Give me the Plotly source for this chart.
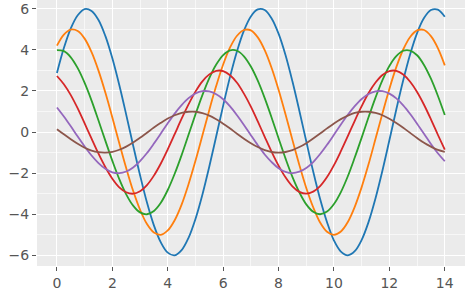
import plotly.graph_objects as go

x = [i * 0.25 for i in range(57)]

blue = [2.88, 4.09, 5.05, 5.69, 5.99, 5.90, 5.46, 4.67, 3.59, 2.29,
        0.85, -0.65, -2.10, -3.43, -4.54, -5.37, -5.87, -6.00, -5.75, -5.15,
        -4.23, -3.05, -1.68, -0.20, 1.29, 2.70, 3.94, 4.94, 5.63, 5.97,
        5.94, 5.53, 4.79, 3.75, 2.47, 1.04, -0.45, -1.92, -3.26, -4.39,
        -5.28, -5.82, -6.00, -5.80, -5.25, -4.37, -3.22, -1.87, -0.40, 1.10,
        2.52, 3.79, 4.82, 5.55, 5.94, 5.96, 5.61]
orange = [4.21, 4.75, 4.99, 4.92, 4.55, 3.89, 2.99, 1.91, 0.71, -0.54,
          -1.75, -2.86, -3.78, -4.48, -4.89, -5.00, -4.79, -4.29, -3.53, -2.54,
          -1.40, -0.17, 1.08, 2.25, 3.29, 4.12, 4.69, 4.97, 4.95, 4.61,
          3.99, 3.12, 2.06, 0.87, -0.38, -1.60, -2.72, -3.66, -4.40, -4.85,
          -5.00, -4.84, -4.38, -3.64, -2.68, -1.56, -0.33, 0.91, 2.10, 3.16,
          4.02, 4.63, 4.95, 4.97, 4.67, 4.09, 3.25]
green = [3.99, 3.94, 3.64, 3.11, 2.39, 1.53, 0.56, -0.43, -1.40, -2.29,
         -3.03, -3.58, -3.91, -4.00, -3.84, -3.44, -2.82, -2.03, -1.12, -0.13,
         0.86, 1.80, 2.63, 3.29, 3.75, 3.98, 3.96, 3.69, 3.19, 2.50,
         1.65, 0.70, -0.30, -1.28, -2.18, -2.93, -3.52, -3.88, -4.00, -3.87,
         -3.50, -2.92, -2.15, -1.24, -0.27, 0.73, 1.68, 2.53, 3.22, 3.70,
         3.96, 3.97, 3.74, 3.27, 2.60, 1.77, 0.83]
red = [2.73, 2.33, 1.80, 1.15, 0.42, -0.32, -1.05, -1.71, -2.27, -2.69,
       -2.93, -3.00, -2.88, -2.58, -2.12, -1.53, -0.84, -0.10, 0.65, 1.35,
       1.97, 2.47, 2.81, 2.98, 2.97, 2.77, 2.40, 1.87, 1.24, 0.52,
       -0.23, -0.96, -1.63, -2.20, -2.64, -2.91, -3.00, -2.90, -2.63, -2.19,
       -1.61, -0.93, -0.20, 0.55, 1.26, 1.90, 2.41, 2.78, 2.97, 2.98,
       2.80, 2.45, 1.95, 1.33, 0.62, -0.13, -0.86]
purple = [1.20, 0.76, 0.28, -0.22, -0.70, -1.14, -1.51, -1.79, -1.96, -2.00,
          -1.92, -1.72, -1.41, -1.02, -0.56, -0.07, 0.43, 0.90, 1.31, 1.65,
          1.88, 1.99, 1.98, 1.84, 1.60, 1.25, 0.82, 0.35, -0.15, -0.64,
          -1.09, -1.46, -1.76, -1.94, -2.00, -1.93, -1.75, -1.46, -1.07, -0.62,
          -0.13, 0.37, 0.84, 1.26, 1.61, 1.85, 1.98, 1.99, 1.87, 1.64,
          1.30, 0.88, 0.41, -0.08, -0.58, -1.03, -1.42]
brown = [0.14, -0.11, -0.35, -0.57, -0.76, -0.90, -0.98, -1.00, -0.96, -0.86,
         -0.71, -0.51, -0.28, -0.03, 0.22, 0.45, 0.66, 0.82, 0.94, 0.99,
         0.99, 0.92, 0.80, 0.62, 0.41, 0.17, -0.08, -0.32, -0.54, -0.73,
         -0.88, -0.97, -1.00, -0.97, -0.88, -0.73, -0.54, -0.31, -0.07, 0.18,
         0.42, 0.63, 0.80, 0.93, 0.99, 0.99, 0.93, 0.82, 0.65, 0.44,
         0.21, -0.04, -0.29, -0.52, -0.71, -0.87, -0.96]

series = [blue, orange, green, red, purple, brown]
colors = ["#1f77b4", "#ff7f0e", "#2ca02c", "#d62728", "#9467bd", "#8c564b"]

x_ticks = [0, 2, 4, 6, 8, 10, 12, 14]
y_ticks = [-6, -4, -2, 0, 2, 4, 6]

fig = go.Figure()
for ys, c in zip(series, colors):
    fig.add_trace(go.Scatter(x=x, y=ys, mode="lines",
                             line=dict(color=c, width=1.8, shape="spline", smoothing=1.0),
                             showlegend=False))

axis_common = dict(
    showgrid=True, gridcolor="white", gridwidth=1.3,
    zeroline=False, showline=False,
    ticks="outside", ticklen=4, tickwidth=1, tickcolor="#555555",
    tickfont=dict(family="DejaVu Sans", size=14, color="#555555"),
    minor=dict(showgrid=True, gridcolor="#F7F7F7", gridwidth=0.6),
)
fig.update_xaxes(range=[-0.72, 14.73], tickvals=x_ticks, ticktext=[str(v) for v in x_ticks], **axis_common)
fig.update_yaxes(range=[-6.52, 6.43], tickvals=y_ticks,
                 ticktext=["\u2212" + str(-v) if v < 0 else str(v) for v in y_ticks], **axis_common)
fig.update_xaxes(minor_dtick=1, minor_tick0=0, minor_ticks="")
fig.update_yaxes(minor_dtick=1, minor_tick0=0, minor_ticks="")

fig.update_layout(
    width=474, height=291,
    margin=dict(l=37, r=9, t=0, b=18),
    plot_bgcolor="#EBEBEB", paper_bgcolor="white",
)
fig.write_html("out.html")
